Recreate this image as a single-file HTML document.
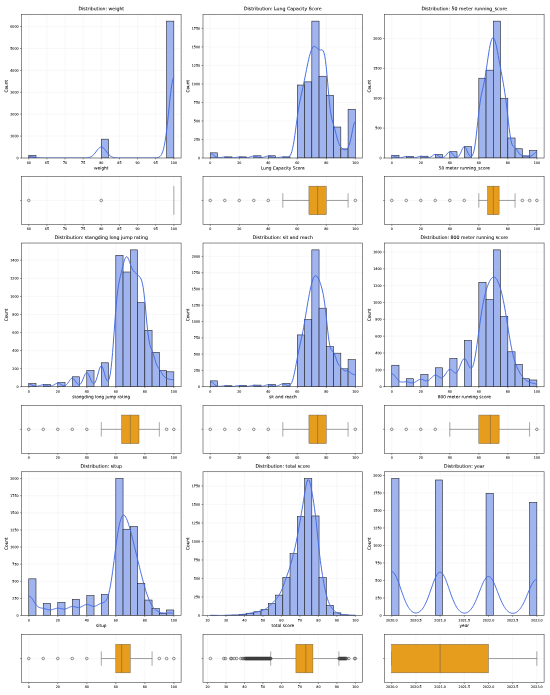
<!DOCTYPE html>
<html lang="en"><head><meta charset="utf-8"><title>Distributions</title>
<style>html,body{margin:0;padding:0;background:#fff}svg{display:block}</style></head>
<body>
<svg width="550" height="695" viewBox="0 0 550 695" font-family='"DejaVu Sans","Liberation Sans",sans-serif' text-rendering="geometricPrecision" stroke-linecap="butt">
<style>text{stroke:#000;stroke-width:0.06px}</style>
<rect width="550" height="695" fill="#fff"/>
<g id="p0">
<rect x="21.5" y="14.3" width="159.6" height="143.7" fill="#fff"/>
<path d="M28.75 14.3V158M46.89 14.3V158M65.03 14.3V158M83.16 14.3V158M101.3 14.3V158M119.44 14.3V158M137.57 14.3V158M155.71 14.3V158M173.85 14.3V158M21.5 158H181.1M21.5 136.1H181.1M21.5 114.21H181.1M21.5 92.31H181.1M21.5 70.41H181.1M21.5 48.51H181.1M21.5 26.62H181.1" stroke="#e9e9e9" stroke-width="0.32" fill="none"/>
<clipPath id="c0"><rect x="21.5" y="14.3" width="159.6" height="143.7"/></clipPath>
<g fill="rgb(160,180,240)" stroke="#1a1a1a" stroke-width="0.56" clip-path="url(#c0)">
<rect x="28.75" y="155.37" width="7.25" height="2.63"/>
<rect x="101.3" y="139.17" width="7.25" height="18.83"/>
<rect x="166.59" y="21.14" width="7.25" height="136.86"/>
</g>
<polyline points="28.75,156.46 29.48,156.48 30.21,156.53 30.94,156.6 31.67,156.71 32.4,156.83 33.13,156.96 33.86,157.1 34.59,157.23 35.32,157.36 36.05,157.48 36.77,157.59 37.5,157.68 38.23,157.76 38.96,157.82 39.69,157.87 40.42,157.91 41.15,157.93 41.88,157.95 42.61,157.97 43.34,157.98 44.07,157.99 44.79,157.99 45.52,158 46.25,158 46.98,158 47.71,158 48.44,158 49.17,158 49.9,158 50.63,158 51.36,158 52.09,158 52.81,158 53.54,158 54.27,158 55,158 55.73,158 56.46,158 57.19,158 57.92,158 58.65,158 59.38,158 60.11,158 60.83,158 61.56,158 62.29,158 63.02,158 63.75,158 64.48,158 65.21,158 65.94,158 66.67,158 67.4,158 68.13,158 68.86,158 69.58,158 70.31,158 71.04,158 71.77,158 72.5,158 73.23,158 73.96,158 74.69,158 75.42,158 76.15,158 76.88,158 77.6,158 78.33,158 79.06,158 79.79,158 80.52,158 81.25,158 81.98,157.99 82.71,157.99 83.44,157.98 84.17,157.97 84.9,157.96 85.62,157.93 86.35,157.89 87.08,157.82 87.81,157.73 88.54,157.61 89.27,157.43 90,157.19 90.73,156.88 91.46,156.48 92.19,155.99 92.92,155.39 93.64,154.68 94.37,153.87 95.1,152.98 95.83,152.02 96.56,151.04 97.29,150.06 98.02,149.15 98.75,148.35 99.48,147.7 100.21,147.24 100.94,147 101.66,147 102.39,147.24 103.12,147.7 103.85,148.35 104.58,149.15 105.31,150.06 106.04,151.04 106.77,152.02 107.5,152.98 108.23,153.87 108.96,154.68 109.68,155.39 110.41,155.99 111.14,156.48 111.87,156.88 112.6,157.19 113.33,157.43 114.06,157.61 114.79,157.73 115.52,157.82 116.25,157.89 116.98,157.93 117.7,157.96 118.43,157.97 119.16,157.98 119.89,157.99 120.62,157.99 121.35,158 122.08,158 122.81,158 123.54,158 124.27,158 125,158 125.72,158 126.45,158 127.18,158 127.91,158 128.64,158 129.37,158 130.1,158 130.83,158 131.56,158 132.29,158 133.02,158 133.74,158 134.47,158 135.2,158 135.93,158 136.66,158 137.39,158 138.12,158 138.85,158 139.58,158 140.31,158 141.04,158 141.77,158 142.49,158 143.22,158 143.95,158 144.68,158 145.41,158 146.14,158 146.87,158 147.6,158 148.33,158 149.06,158 149.79,158 150.51,158 151.24,158 151.97,158 152.7,157.99 153.43,157.98 154.16,157.97 154.89,157.95 155.62,157.91 156.35,157.85 157.08,157.75 157.81,157.59 158.53,157.34 159.26,156.97 159.99,156.43 160.72,155.64 161.45,154.55 162.18,153.06 162.91,151.08 163.64,148.51 164.37,145.27 165.1,141.28 165.83,136.53 166.55,131.01 167.28,124.81 168.01,118.06 168.74,110.98 169.47,103.83 170.2,96.94 170.93,90.65 171.66,85.32 172.39,81.26 173.12,78.71 173.85,77.84" fill="none" stroke="rgb(65,105,225)" stroke-width="0.95" stroke-linejoin="round" clip-path="url(#c0)"/>
<path d="M28.75 158v1.4M46.89 158v1.4M65.03 158v1.4M83.16 158v1.4M101.3 158v1.4M119.44 158v1.4M137.57 158v1.4M155.71 158v1.4M173.85 158v1.4M21.5 158h-1.4M21.5 136.1h-1.4M21.5 114.21h-1.4M21.5 92.31h-1.4M21.5 70.41h-1.4M21.5 48.51h-1.4M21.5 26.62h-1.4" stroke="#111" stroke-width="0.45" fill="none"/>
<rect x="21.5" y="14.3" width="159.6" height="143.7" fill="none" stroke="#333" stroke-width="0.55"/>
<g font-size="3.3" fill="#000">
<text transform="translate(28.75 163.95) rotate(0.05)" text-anchor="middle">60</text>
<text transform="translate(46.89 163.95) rotate(0.05)" text-anchor="middle">65</text>
<text transform="translate(65.03 163.95) rotate(0.05)" text-anchor="middle">70</text>
<text transform="translate(83.16 163.95) rotate(0.05)" text-anchor="middle">75</text>
<text transform="translate(101.3 163.95) rotate(0.05)" text-anchor="middle">80</text>
<text transform="translate(119.44 163.95) rotate(0.05)" text-anchor="middle">85</text>
<text transform="translate(137.57 163.95) rotate(0.05)" text-anchor="middle">90</text>
<text transform="translate(155.71 163.95) rotate(0.05)" text-anchor="middle">95</text>
<text transform="translate(173.85 163.95) rotate(0.05)" text-anchor="middle">100</text>
<text transform="translate(18.6 159.25) rotate(0.05)" text-anchor="end">0</text>
<text transform="translate(18.6 137.35) rotate(0.05)" text-anchor="end">1000</text>
<text transform="translate(18.6 115.46) rotate(0.05)" text-anchor="end">2000</text>
<text transform="translate(18.6 93.56) rotate(0.05)" text-anchor="end">3000</text>
<text transform="translate(18.6 71.66) rotate(0.05)" text-anchor="end">4000</text>
<text transform="translate(18.6 49.76) rotate(0.05)" text-anchor="end">5000</text>
<text transform="translate(18.6 27.87) rotate(0.05)" text-anchor="end">6000</text>
</g>
<text transform="translate(101.3 10.2) rotate(0.05)" font-size="4.65" text-anchor="middle">Distribution: weight</text>
<text transform="translate(101.3 169.6) rotate(0.05)" font-size="4.28" text-anchor="middle">weight</text>
<text transform="translate(7.75 86.15) rotate(-89.95)" font-size="4.28" text-anchor="middle">Count</text>
<rect x="21.5" y="176.4" width="159.6" height="48.1" fill="#fff"/>
<path d="M28.75 176.4V224.5M46.89 176.4V224.5M65.03 176.4V224.5M83.16 176.4V224.5M101.3 176.4V224.5M119.44 176.4V224.5M137.57 176.4V224.5M155.71 176.4V224.5M173.85 176.4V224.5M21.5 200.45H181.1" stroke="#e9e9e9" stroke-width="0.32" fill="none"/>
<path d="M173.85 186.14v28.62" stroke="#555" stroke-width="0.5" fill="none"/>
<g fill="none" stroke="#3a3a3a" stroke-width="0.56">
<circle cx="28.75" cy="200.45" r="1.3"/>
<circle cx="101.3" cy="200.45" r="1.3"/>
</g>
<path d="M28.75 224.5v1.4M46.89 224.5v1.4M65.03 224.5v1.4M83.16 224.5v1.4M101.3 224.5v1.4M119.44 224.5v1.4M137.57 224.5v1.4M155.71 224.5v1.4M173.85 224.5v1.4M21.5 200.45h-1.4" stroke="#111" stroke-width="0.45" fill="none"/>
<rect x="21.5" y="176.4" width="159.6" height="48.1" fill="none" stroke="#333" stroke-width="0.55"/>
<g font-size="3.3" fill="#000">
<text transform="translate(28.75 229.95) rotate(0.05)" text-anchor="middle">60</text>
<text transform="translate(46.89 229.95) rotate(0.05)" text-anchor="middle">65</text>
<text transform="translate(65.03 229.95) rotate(0.05)" text-anchor="middle">70</text>
<text transform="translate(83.16 229.95) rotate(0.05)" text-anchor="middle">75</text>
<text transform="translate(101.3 229.95) rotate(0.05)" text-anchor="middle">80</text>
<text transform="translate(119.44 229.95) rotate(0.05)" text-anchor="middle">85</text>
<text transform="translate(137.57 229.95) rotate(0.05)" text-anchor="middle">90</text>
<text transform="translate(155.71 229.95) rotate(0.05)" text-anchor="middle">95</text>
<text transform="translate(173.85 229.95) rotate(0.05)" text-anchor="middle">100</text>
</g>
</g>
<g id="p1">
<rect x="203" y="14.3" width="159.6" height="143.7" fill="#fff"/>
<path d="M210.25 14.3V158M239.27 14.3V158M268.29 14.3V158M297.31 14.3V158M326.33 14.3V158M355.35 14.3V158M203 158H362.6M203 139.49H362.6M203 120.97H362.6M203 102.46H362.6M203 83.94H362.6M203 65.43H362.6M203 46.91H362.6M203 28.4H362.6" stroke="#e9e9e9" stroke-width="0.32" fill="none"/>
<clipPath id="c1"><rect x="203" y="14.3" width="159.6" height="143.7"/></clipPath>
<g fill="rgb(160,180,240)" stroke="#1a1a1a" stroke-width="0.56" clip-path="url(#c1)">
<rect x="210.25" y="152.82" width="7.25" height="5.18"/>
<rect x="224.76" y="156.89" width="7.25" height="1.11"/>
<rect x="239.27" y="156.89" width="7.25" height="1.11"/>
<rect x="253.78" y="155.78" width="7.25" height="2.22"/>
<rect x="268.29" y="155.78" width="7.25" height="2.22"/>
<rect x="282.8" y="156.89" width="7.25" height="1.11"/>
<rect x="297.31" y="85.05" width="7.25" height="72.95"/>
<rect x="304.56" y="81.87" width="7.25" height="76.13"/>
<rect x="311.82" y="21.14" width="7.25" height="136.86"/>
<rect x="319.07" y="76.24" width="7.25" height="81.76"/>
<rect x="326.33" y="95.27" width="7.25" height="62.73"/>
<rect x="333.58" y="127.04" width="7.25" height="30.96"/>
<rect x="340.84" y="148.89" width="7.25" height="9.11"/>
<rect x="348.09" y="109.27" width="7.25" height="48.73"/>
</g>
<polyline points="210.25,153.53 210.98,153.64 211.71,153.93 212.44,154.38 213.17,154.93 213.9,155.52 214.63,156.08 215.36,156.57 216.09,156.98 216.82,157.28 217.55,157.48 218.27,157.59 219,157.63 219.73,157.61 220.46,157.53 221.19,157.43 221.92,157.32 222.65,157.21 223.38,157.12 224.11,157.06 224.84,157.04 225.57,157.07 226.29,157.14 227.02,157.24 227.75,157.35 228.48,157.48 229.21,157.59 229.94,157.69 230.67,157.76 231.4,157.8 232.13,157.81 232.86,157.79 233.59,157.74 234.31,157.66 235.04,157.56 235.77,157.44 236.5,157.32 237.23,157.2 237.96,157.11 238.69,157.06 239.42,157.04 240.15,157.07 240.88,157.14 241.61,157.25 242.33,157.36 243.06,157.48 243.79,157.59 244.52,157.68 245.25,157.73 245.98,157.74 246.71,157.71 247.44,157.63 248.17,157.5 248.9,157.32 249.63,157.1 250.36,156.86 251.08,156.61 251.81,156.39 252.54,156.21 253.27,156.11 254,156.09 254.73,156.16 255.46,156.31 256.19,156.52 256.92,156.76 257.65,157 258.38,157.22 259.1,157.41 259.83,157.54 260.56,157.62 261.29,157.63 262.02,157.57 262.75,157.46 263.48,157.28 264.21,157.07 264.94,156.83 265.67,156.59 266.4,156.37 267.12,156.2 267.85,156.1 268.58,156.09 269.31,156.17 270.04,156.33 270.77,156.54 271.5,156.78 272.23,157.03 272.96,157.26 273.69,157.45 274.42,157.59 275.14,157.69 275.87,157.74 276.6,157.74 277.33,157.69 278.06,157.62 278.79,157.52 279.52,157.4 280.25,157.28 280.98,157.17 281.71,157.09 282.44,157.05 283.16,157.05 283.89,157.08 284.62,157.16 285.35,157.25 286.08,157.33 286.81,157.37 287.54,157.33 288.27,157.16 289,156.79 289.73,156.12 290.46,155.06 291.18,153.48 291.91,151.28 292.64,148.37 293.37,144.73 294.1,140.39 294.83,135.46 295.56,130.13 296.29,124.63 297.02,119.19 297.75,114.01 298.48,109.25 299.2,104.95 299.93,101.08 300.66,97.56 301.39,94.24 302.12,90.99 302.85,87.69 303.58,84.27 304.31,80.72 305.04,77.06 305.77,73.34 306.5,69.65 307.22,66.04 307.95,62.58 308.68,59.33 309.41,56.34 310.14,53.66 310.87,51.36 311.6,49.46 312.33,48.01 313.06,47.02 313.79,46.48 314.52,46.34 315.24,46.55 315.97,47.01 316.7,47.65 317.43,48.34 318.16,48.99 318.89,49.52 319.62,49.85 320.35,49.97 321.08,49.94 321.81,49.91 322.54,50.14 323.27,50.97 323.99,52.76 324.72,55.86 325.45,60.48 326.18,66.62 326.91,74.04 327.64,82.29 328.37,90.74 329.1,98.76 329.83,105.82 330.56,111.61 331.29,116.11 332.01,119.52 332.74,122.21 333.47,124.59 334.2,126.99 334.93,129.58 335.66,132.39 336.39,135.28 337.12,138.08 337.85,140.6 338.58,142.73 339.31,144.44 340.03,145.79 340.76,146.84 341.49,147.7 342.22,148.41 342.95,149 343.68,149.45 344.41,149.72 345.14,149.79 345.87,149.62 346.6,149.21 347.33,148.51 348.05,147.46 348.78,146 349.51,144.01 350.24,141.43 350.97,138.26 351.7,134.62 352.43,130.78 353.16,127.14 353.89,124.14 354.62,122.24 355.35,121.76" fill="none" stroke="rgb(65,105,225)" stroke-width="0.95" stroke-linejoin="round" clip-path="url(#c1)"/>
<path d="M210.25 158v1.4M239.27 158v1.4M268.29 158v1.4M297.31 158v1.4M326.33 158v1.4M355.35 158v1.4M203 158h-1.4M203 139.49h-1.4M203 120.97h-1.4M203 102.46h-1.4M203 83.94h-1.4M203 65.43h-1.4M203 46.91h-1.4M203 28.4h-1.4" stroke="#111" stroke-width="0.45" fill="none"/>
<rect x="203" y="14.3" width="159.6" height="143.7" fill="none" stroke="#333" stroke-width="0.55"/>
<g font-size="3.3" fill="#000">
<text transform="translate(210.25 163.95) rotate(0.05)" text-anchor="middle">0</text>
<text transform="translate(239.27 163.95) rotate(0.05)" text-anchor="middle">20</text>
<text transform="translate(268.29 163.95) rotate(0.05)" text-anchor="middle">40</text>
<text transform="translate(297.31 163.95) rotate(0.05)" text-anchor="middle">60</text>
<text transform="translate(326.33 163.95) rotate(0.05)" text-anchor="middle">80</text>
<text transform="translate(355.35 163.95) rotate(0.05)" text-anchor="middle">100</text>
<text transform="translate(200.1 159.25) rotate(0.05)" text-anchor="end">0</text>
<text transform="translate(200.1 140.74) rotate(0.05)" text-anchor="end">250</text>
<text transform="translate(200.1 122.22) rotate(0.05)" text-anchor="end">500</text>
<text transform="translate(200.1 103.71) rotate(0.05)" text-anchor="end">750</text>
<text transform="translate(200.1 85.19) rotate(0.05)" text-anchor="end">1000</text>
<text transform="translate(200.1 66.68) rotate(0.05)" text-anchor="end">1250</text>
<text transform="translate(200.1 48.16) rotate(0.05)" text-anchor="end">1500</text>
<text transform="translate(200.1 29.65) rotate(0.05)" text-anchor="end">1750</text>
</g>
<text transform="translate(282.8 10.2) rotate(0.05)" font-size="4.65" text-anchor="middle">Distribution: Lung Capacity Score</text>
<text transform="translate(282.8 169.6) rotate(0.05)" font-size="4.28" text-anchor="middle">Lung Capacity Score</text>
<text transform="translate(189.25 86.15) rotate(-89.95)" font-size="4.28" text-anchor="middle">Count</text>
<rect x="203" y="176.4" width="159.6" height="48.1" fill="#fff"/>
<path d="M210.25 176.4V224.5M239.27 176.4V224.5M268.29 176.4V224.5M297.31 176.4V224.5M326.33 176.4V224.5M355.35 176.4V224.5M203 200.45H362.6" stroke="#e9e9e9" stroke-width="0.32" fill="none"/>
<path d="M282.8 200.45H308.92M326.33 200.45H348.09" stroke="#4a4a4a" stroke-width="0.52" fill="none"/>
<path d="M282.8 193.24v14.43M348.09 193.24v14.43" stroke="#555" stroke-width="0.5" fill="none"/>
<rect x="308.92" y="186.14" width="17.41" height="28.62" fill="#e69c1c" stroke="#5a5a5a" stroke-width="0.4"/>
<path d="M317.62 186.14v28.62" stroke="#4d4d4d" stroke-width="0.42" fill="none"/>
<g fill="none" stroke="#3a3a3a" stroke-width="0.56">
<circle cx="210.25" cy="200.45" r="1.3"/>
<circle cx="224.76" cy="200.45" r="1.3"/>
<circle cx="239.27" cy="200.45" r="1.3"/>
<circle cx="253.78" cy="200.45" r="1.3"/>
<circle cx="268.29" cy="200.45" r="1.3"/>
<circle cx="355.35" cy="200.45" r="1.3"/>
</g>
<path d="M210.25 224.5v1.4M239.27 224.5v1.4M268.29 224.5v1.4M297.31 224.5v1.4M326.33 224.5v1.4M355.35 224.5v1.4M203 200.45h-1.4" stroke="#111" stroke-width="0.45" fill="none"/>
<rect x="203" y="176.4" width="159.6" height="48.1" fill="none" stroke="#333" stroke-width="0.55"/>
<g font-size="3.3" fill="#000">
<text transform="translate(210.25 229.95) rotate(0.05)" text-anchor="middle">0</text>
<text transform="translate(239.27 229.95) rotate(0.05)" text-anchor="middle">20</text>
<text transform="translate(268.29 229.95) rotate(0.05)" text-anchor="middle">40</text>
<text transform="translate(297.31 229.95) rotate(0.05)" text-anchor="middle">60</text>
<text transform="translate(326.33 229.95) rotate(0.05)" text-anchor="middle">80</text>
<text transform="translate(355.35 229.95) rotate(0.05)" text-anchor="middle">100</text>
</g>
</g>
<g id="p2">
<rect x="384.5" y="14.3" width="159.6" height="143.7" fill="#fff"/>
<path d="M391.75 14.3V158M420.77 14.3V158M449.79 14.3V158M478.81 14.3V158M507.83 14.3V158M536.85 14.3V158M384.5 158H544.1M384.5 128.12H544.1M384.5 98.24H544.1M384.5 68.36H544.1M384.5 38.47H544.1" stroke="#e9e9e9" stroke-width="0.32" fill="none"/>
<clipPath id="c2"><rect x="384.5" y="14.3" width="159.6" height="143.7"/></clipPath>
<g fill="rgb(160,180,240)" stroke="#1a1a1a" stroke-width="0.56" clip-path="url(#c2)">
<rect x="391.75" y="155.31" width="7.25" height="2.69"/>
<rect x="406.26" y="156.51" width="7.25" height="1.49"/>
<rect x="420.77" y="156.21" width="7.25" height="1.79"/>
<rect x="435.28" y="154.41" width="7.25" height="3.59"/>
<rect x="449.79" y="151.72" width="7.25" height="6.28"/>
<rect x="464.3" y="146.65" width="7.25" height="11.35"/>
<rect x="478.81" y="78.22" width="7.25" height="79.78"/>
<rect x="486.06" y="70.15" width="7.25" height="87.85"/>
<rect x="493.32" y="21.14" width="7.25" height="136.86"/>
<rect x="500.57" y="98.24" width="7.25" height="59.76"/>
<rect x="507.83" y="137.98" width="7.25" height="20.02"/>
<rect x="515.08" y="148.74" width="7.25" height="9.26"/>
<rect x="522.34" y="155.91" width="7.25" height="2.09"/>
<rect x="529.59" y="150.53" width="7.25" height="7.47"/>
</g>
<polyline points="391.75,155.3 392.48,155.38 393.21,155.62 393.94,155.98 394.67,156.38 395.4,156.79 396.13,157.14 396.86,157.43 397.59,157.64 398.32,157.76 399.05,157.82 399.77,157.82 400.5,157.77 401.23,157.66 401.96,157.5 402.69,157.3 403.42,157.08 404.15,156.85 404.88,156.66 405.61,156.54 406.34,156.5 407.07,156.56 407.79,156.7 408.52,156.9 409.25,157.12 409.98,157.35 410.71,157.54 411.44,157.69 412.17,157.8 412.9,157.85 413.63,157.86 414.36,157.82 415.09,157.73 415.81,157.58 416.54,157.38 417.27,157.14 418,156.87 418.73,156.6 419.46,156.38 420.19,156.24 420.92,156.2 421.65,156.28 422.38,156.46 423.11,156.7 423.83,156.97 424.56,157.24 425.29,157.46 426.02,157.64 426.75,157.75 427.48,157.79 428.21,157.76 428.94,157.65 429.67,157.44 430.4,157.14 431.13,156.72 431.86,156.22 432.58,155.68 433.31,155.15 434.04,154.72 434.77,154.46 435.5,154.41 436.23,154.59 436.96,154.96 437.69,155.46 438.42,156 439.15,156.53 439.88,156.97 440.6,157.31 441.33,157.52 442.06,157.6 442.79,157.55 443.52,157.35 444.25,156.98 444.98,156.42 445.71,155.68 446.44,154.8 447.17,153.84 447.9,152.92 448.62,152.19 449.35,151.77 450.08,151.73 450.81,152.08 451.54,152.76 452.27,153.65 453,154.6 453.73,155.51 454.46,156.27 455.19,156.83 455.92,157.17 456.64,157.29 457.37,157.17 458.1,156.77 458.83,156.07 459.56,155.03 460.29,153.66 461.02,152.03 461.75,150.29 462.48,148.66 463.21,147.39 463.94,146.69 464.66,146.69 465.39,147.39 466.12,148.66 466.85,150.29 467.58,152.02 468.31,153.63 469.04,154.96 469.77,155.92 470.5,156.45 471.23,156.52 471.96,156.05 472.68,154.93 473.41,153.01 474.14,150.12 474.87,146.14 475.6,141.06 476.33,135.03 477.06,128.33 477.79,121.37 478.52,114.61 479.25,108.4 479.98,103 480.7,98.45 481.43,94.62 482.16,91.28 482.89,88.11 483.62,84.83 484.35,81.21 485.08,77.15 485.81,72.65 486.54,67.79 487.27,62.76 488,57.75 488.72,52.97 489.45,48.59 490.18,44.79 490.91,41.7 491.64,39.43 492.37,38.06 493.1,37.64 493.83,38.16 494.56,39.56 495.29,41.76 496.02,44.6 496.74,47.93 497.47,51.61 498.2,55.48 498.93,59.45 499.66,63.44 500.39,67.41 501.12,71.34 501.85,75.26 502.58,79.23 503.31,83.31 504.04,87.61 504.77,92.22 505.49,97.26 506.22,102.77 506.95,108.75 507.68,115.07 508.41,121.52 509.14,127.76 509.87,133.44 510.6,138.22 511.33,141.9 512.06,144.43 512.79,145.95 513.51,146.75 514.24,147.21 514.97,147.63 515.7,148.26 516.43,149.16 517.16,150.3 517.89,151.53 518.62,152.68 519.35,153.65 520.08,154.37 520.81,154.87 521.53,155.19 522.26,155.42 522.99,155.63 523.72,155.84 524.45,156.04 525.18,156.22 525.91,156.35 526.64,156.41 527.37,156.4 528.1,156.34 528.83,156.26 529.55,156.16 530.28,156.05 531.01,155.87 531.74,155.6 532.47,155.19 533.2,154.62 533.93,153.92 534.66,153.18 535.39,152.52 536.12,152.07 536.85,151.94" fill="none" stroke="rgb(65,105,225)" stroke-width="0.95" stroke-linejoin="round" clip-path="url(#c2)"/>
<path d="M391.75 158v1.4M420.77 158v1.4M449.79 158v1.4M478.81 158v1.4M507.83 158v1.4M536.85 158v1.4M384.5 158h-1.4M384.5 128.12h-1.4M384.5 98.24h-1.4M384.5 68.36h-1.4M384.5 38.47h-1.4" stroke="#111" stroke-width="0.45" fill="none"/>
<rect x="384.5" y="14.3" width="159.6" height="143.7" fill="none" stroke="#333" stroke-width="0.55"/>
<g font-size="3.3" fill="#000">
<text transform="translate(391.75 163.95) rotate(0.05)" text-anchor="middle">0</text>
<text transform="translate(420.77 163.95) rotate(0.05)" text-anchor="middle">20</text>
<text transform="translate(449.79 163.95) rotate(0.05)" text-anchor="middle">40</text>
<text transform="translate(478.81 163.95) rotate(0.05)" text-anchor="middle">60</text>
<text transform="translate(507.83 163.95) rotate(0.05)" text-anchor="middle">80</text>
<text transform="translate(536.85 163.95) rotate(0.05)" text-anchor="middle">100</text>
<text transform="translate(381.6 159.25) rotate(0.05)" text-anchor="end">0</text>
<text transform="translate(381.6 129.37) rotate(0.05)" text-anchor="end">500</text>
<text transform="translate(381.6 99.49) rotate(0.05)" text-anchor="end">1000</text>
<text transform="translate(381.6 69.61) rotate(0.05)" text-anchor="end">1500</text>
<text transform="translate(381.6 39.72) rotate(0.05)" text-anchor="end">2000</text>
</g>
<text transform="translate(464.3 10.2) rotate(0.05)" font-size="4.65" text-anchor="middle">Distribution: 50 meter running_score</text>
<text transform="translate(464.3 169.6) rotate(0.05)" font-size="4.28" text-anchor="middle">50 meter running_score</text>
<text transform="translate(370.75 86.15) rotate(-89.95)" font-size="4.28" text-anchor="middle">Count</text>
<rect x="384.5" y="176.4" width="159.6" height="48.1" fill="#fff"/>
<path d="M391.75 176.4V224.5M420.77 176.4V224.5M449.79 176.4V224.5M478.81 176.4V224.5M507.83 176.4V224.5M536.85 176.4V224.5M384.5 200.45H544.1" stroke="#e9e9e9" stroke-width="0.32" fill="none"/>
<path d="M478.81 200.45H487.51M499.12 200.45H515.08" stroke="#4a4a4a" stroke-width="0.52" fill="none"/>
<path d="M478.81 193.24v14.43M515.08 193.24v14.43" stroke="#555" stroke-width="0.5" fill="none"/>
<rect x="487.51" y="186.14" width="11.61" height="28.62" fill="#e69c1c" stroke="#5a5a5a" stroke-width="0.4"/>
<path d="M493.32 186.14v28.62" stroke="#4d4d4d" stroke-width="0.42" fill="none"/>
<g fill="none" stroke="#3a3a3a" stroke-width="0.56">
<circle cx="391.75" cy="200.45" r="1.3"/>
<circle cx="406.26" cy="200.45" r="1.3"/>
<circle cx="420.77" cy="200.45" r="1.3"/>
<circle cx="435.28" cy="200.45" r="1.3"/>
<circle cx="449.79" cy="200.45" r="1.3"/>
<circle cx="464.3" cy="200.45" r="1.3"/>
<circle cx="522.34" cy="200.45" r="1.3"/>
<circle cx="529.59" cy="200.45" r="1.3"/>
<circle cx="536.85" cy="200.45" r="1.3"/>
</g>
<path d="M391.75 224.5v1.4M420.77 224.5v1.4M449.79 224.5v1.4M478.81 224.5v1.4M507.83 224.5v1.4M536.85 224.5v1.4M384.5 200.45h-1.4" stroke="#111" stroke-width="0.45" fill="none"/>
<rect x="384.5" y="176.4" width="159.6" height="48.1" fill="none" stroke="#333" stroke-width="0.55"/>
<g font-size="3.3" fill="#000">
<text transform="translate(391.75 229.95) rotate(0.05)" text-anchor="middle">0</text>
<text transform="translate(420.77 229.95) rotate(0.05)" text-anchor="middle">20</text>
<text transform="translate(449.79 229.95) rotate(0.05)" text-anchor="middle">40</text>
<text transform="translate(478.81 229.95) rotate(0.05)" text-anchor="middle">60</text>
<text transform="translate(507.83 229.95) rotate(0.05)" text-anchor="middle">80</text>
<text transform="translate(536.85 229.95) rotate(0.05)" text-anchor="middle">100</text>
</g>
</g>
<g id="p3">
<rect x="21.5" y="243.03" width="159.6" height="143.7" fill="#fff"/>
<path d="M28.75 243.03V386.73M57.77 243.03V386.73M86.79 243.03V386.73M115.81 243.03V386.73M144.83 243.03V386.73M173.85 243.03V386.73M21.5 386.73H181.1M21.5 368.66H181.1M21.5 350.6H181.1M21.5 332.53H181.1M21.5 314.46H181.1M21.5 296.4H181.1M21.5 278.33H181.1M21.5 260.26H181.1" stroke="#e9e9e9" stroke-width="0.32" fill="none"/>
<clipPath id="c3"><rect x="21.5" y="243.03" width="159.6" height="143.7"/></clipPath>
<g fill="rgb(160,180,240)" stroke="#1a1a1a" stroke-width="0.56" clip-path="url(#c3)">
<rect x="28.75" y="383.57" width="7.25" height="3.16"/>
<rect x="43.26" y="384.47" width="7.25" height="2.26"/>
<rect x="57.77" y="382.66" width="7.25" height="4.07"/>
<rect x="72.28" y="376.79" width="7.25" height="9.94"/>
<rect x="86.79" y="370.47" width="7.25" height="16.26"/>
<rect x="101.3" y="362.79" width="7.25" height="23.94"/>
<rect x="115.81" y="255.29" width="7.25" height="131.44"/>
<rect x="123.06" y="272" width="7.25" height="114.73"/>
<rect x="130.32" y="249.87" width="7.25" height="136.86"/>
<rect x="137.57" y="302.72" width="7.25" height="84.01"/>
<rect x="144.83" y="330.27" width="7.25" height="56.46"/>
<rect x="152.08" y="352.4" width="7.25" height="34.33"/>
<rect x="159.34" y="370.47" width="7.25" height="16.26"/>
<rect x="166.59" y="371.82" width="7.25" height="14.91"/>
</g>
<polyline points="28.75,383.99 29.48,384.05 30.21,384.24 30.94,384.52 31.67,384.85 32.4,385.21 33.13,385.55 33.86,385.84 34.59,386.07 35.32,386.22 36.05,386.29 36.77,386.28 37.5,386.2 38.23,386.05 38.96,385.85 39.69,385.61 40.42,385.36 41.15,385.12 41.88,384.93 42.61,384.81 43.34,384.77 44.07,384.83 44.79,384.97 45.52,385.17 46.25,385.41 46.98,385.66 47.71,385.89 48.44,386.07 49.17,386.19 49.9,386.24 50.63,386.2 51.36,386.07 52.09,385.85 52.81,385.53 53.54,385.13 54.27,384.69 55,384.23 55.73,383.8 56.46,383.47 57.19,383.26 57.92,383.21 58.65,383.32 59.38,383.58 60.11,383.96 60.83,384.39 61.56,384.83 62.29,385.22 63.02,385.52 63.75,385.69 64.48,385.7 65.21,385.52 65.94,385.14 66.67,384.54 67.4,383.72 68.13,382.73 68.86,381.63 69.58,380.51 70.31,379.49 71.04,378.69 71.77,378.21 72.5,378.13 73.23,378.45 73.96,379.13 74.69,380.07 75.42,381.14 76.15,382.23 76.88,383.22 77.6,383.99 78.33,384.5 79.06,384.67 79.79,384.48 80.52,383.91 81.25,382.94 81.98,381.62 82.71,379.99 83.44,378.19 84.17,376.37 84.9,374.72 85.62,373.46 86.35,372.75 87.08,372.68 87.81,373.27 88.54,374.43 89.27,376 90,377.78 90.73,379.56 91.46,381.16 92.19,382.41 92.92,383.23 93.64,383.52 94.37,383.25 95.1,382.39 95.83,380.95 96.56,378.96 97.29,376.54 98.02,373.88 98.75,371.21 99.48,368.84 100.21,367.05 100.94,366.09 101.66,366.09 102.39,367.04 103.12,368.82 103.85,371.16 104.58,373.78 105.31,376.34 106.04,378.55 106.77,380.18 107.5,381.02 108.23,380.89 108.96,379.64 109.68,377.09 110.41,373.13 111.14,367.67 111.87,360.71 112.6,352.41 113.33,343.06 114.06,333.11 114.79,323.06 115.52,313.45 116.25,304.73 116.98,297.17 117.7,290.9 118.43,285.83 119.16,281.73 119.89,278.29 120.62,275.22 121.35,272.26 122.08,269.29 122.81,266.3 123.54,263.41 124.27,260.8 125,258.69 125.72,257.26 126.45,256.65 127.18,256.86 127.91,257.83 128.64,259.4 129.37,261.35 130.1,263.45 130.83,265.5 131.56,267.34 132.29,268.89 133.02,270.15 133.74,271.14 134.47,271.94 135.2,272.63 135.93,273.27 136.66,273.92 137.39,274.58 138.12,275.26 138.85,275.95 139.58,276.72 140.31,277.67 141.04,278.99 141.77,280.94 142.49,283.8 143.22,287.81 143.95,293.11 144.68,299.63 145.41,307.11 146.14,315.08 146.87,322.94 147.6,330.12 148.33,336.18 149.06,340.9 149.79,344.34 150.51,346.79 151.24,348.66 151.97,350.39 152.7,352.29 153.43,354.49 154.16,356.94 154.89,359.47 155.62,361.87 156.35,363.94 157.08,365.63 157.81,366.96 158.53,368.07 159.26,369.09 159.99,370.16 160.72,371.33 161.45,372.57 162.18,373.82 162.91,374.97 163.64,375.95 164.37,376.72 165.1,377.31 165.83,377.76 166.55,378.13 167.28,378.48 168.01,378.81 168.74,379.11 169.47,379.35 170.2,379.5 170.93,379.56 171.66,379.56 172.39,379.55 173.12,379.62 173.85,379.83" fill="none" stroke="rgb(65,105,225)" stroke-width="0.95" stroke-linejoin="round" clip-path="url(#c3)"/>
<path d="M28.75 386.73v1.4M57.77 386.73v1.4M86.79 386.73v1.4M115.81 386.73v1.4M144.83 386.73v1.4M173.85 386.73v1.4M21.5 386.73h-1.4M21.5 368.66h-1.4M21.5 350.6h-1.4M21.5 332.53h-1.4M21.5 314.46h-1.4M21.5 296.4h-1.4M21.5 278.33h-1.4M21.5 260.26h-1.4" stroke="#111" stroke-width="0.45" fill="none"/>
<rect x="21.5" y="243.03" width="159.6" height="143.7" fill="none" stroke="#333" stroke-width="0.55"/>
<g font-size="3.3" fill="#000">
<text transform="translate(28.75 392.68) rotate(0.05)" text-anchor="middle">0</text>
<text transform="translate(57.77 392.68) rotate(0.05)" text-anchor="middle">20</text>
<text transform="translate(86.79 392.68) rotate(0.05)" text-anchor="middle">40</text>
<text transform="translate(115.81 392.68) rotate(0.05)" text-anchor="middle">60</text>
<text transform="translate(144.83 392.68) rotate(0.05)" text-anchor="middle">80</text>
<text transform="translate(173.85 392.68) rotate(0.05)" text-anchor="middle">100</text>
<text transform="translate(18.6 387.98) rotate(0.05)" text-anchor="end">0</text>
<text transform="translate(18.6 369.91) rotate(0.05)" text-anchor="end">200</text>
<text transform="translate(18.6 351.85) rotate(0.05)" text-anchor="end">400</text>
<text transform="translate(18.6 333.78) rotate(0.05)" text-anchor="end">600</text>
<text transform="translate(18.6 315.71) rotate(0.05)" text-anchor="end">800</text>
<text transform="translate(18.6 297.65) rotate(0.05)" text-anchor="end">1000</text>
<text transform="translate(18.6 279.58) rotate(0.05)" text-anchor="end">1200</text>
<text transform="translate(18.6 261.51) rotate(0.05)" text-anchor="end">1400</text>
</g>
<text transform="translate(101.3 238.93) rotate(0.05)" font-size="4.65" text-anchor="middle">Distribution: stangding long jump rating</text>
<text transform="translate(101.3 398.33) rotate(0.05)" font-size="4.28" text-anchor="middle">stangding long jump rating</text>
<text transform="translate(7.75 314.88) rotate(-89.95)" font-size="4.28" text-anchor="middle">Count</text>
<rect x="21.5" y="405.3" width="159.6" height="48.1" fill="#fff"/>
<path d="M28.75 405.3V453.4M57.77 405.3V453.4M86.79 405.3V453.4M115.81 405.3V453.4M144.83 405.3V453.4M173.85 405.3V453.4M21.5 429.35H181.1" stroke="#e9e9e9" stroke-width="0.32" fill="none"/>
<path d="M101.3 429.35H121.61M139.02 429.35H159.34" stroke="#4a4a4a" stroke-width="0.52" fill="none"/>
<path d="M101.3 422.14v14.43M159.34 422.14v14.43" stroke="#555" stroke-width="0.5" fill="none"/>
<rect x="121.61" y="415.04" width="17.41" height="28.62" fill="#e69c1c" stroke="#5a5a5a" stroke-width="0.4"/>
<path d="M130.32 415.04v28.62" stroke="#4d4d4d" stroke-width="0.42" fill="none"/>
<g fill="none" stroke="#3a3a3a" stroke-width="0.56">
<circle cx="28.75" cy="429.35" r="1.3"/>
<circle cx="43.26" cy="429.35" r="1.3"/>
<circle cx="57.77" cy="429.35" r="1.3"/>
<circle cx="72.28" cy="429.35" r="1.3"/>
<circle cx="86.79" cy="429.35" r="1.3"/>
<circle cx="166.59" cy="429.35" r="1.3"/>
<circle cx="173.85" cy="429.35" r="1.3"/>
</g>
<path d="M28.75 453.4v1.4M57.77 453.4v1.4M86.79 453.4v1.4M115.81 453.4v1.4M144.83 453.4v1.4M173.85 453.4v1.4M21.5 429.35h-1.4" stroke="#111" stroke-width="0.45" fill="none"/>
<rect x="21.5" y="405.3" width="159.6" height="48.1" fill="none" stroke="#333" stroke-width="0.55"/>
<g font-size="3.3" fill="#000">
<text transform="translate(28.75 458.85) rotate(0.05)" text-anchor="middle">0</text>
<text transform="translate(57.77 458.85) rotate(0.05)" text-anchor="middle">20</text>
<text transform="translate(86.79 458.85) rotate(0.05)" text-anchor="middle">40</text>
<text transform="translate(115.81 458.85) rotate(0.05)" text-anchor="middle">60</text>
<text transform="translate(144.83 458.85) rotate(0.05)" text-anchor="middle">80</text>
<text transform="translate(173.85 458.85) rotate(0.05)" text-anchor="middle">100</text>
</g>
</g>
<g id="p4">
<rect x="203" y="243.03" width="159.6" height="143.7" fill="#fff"/>
<path d="M210.25 243.03V386.73M239.27 243.03V386.73M268.29 243.03V386.73M297.31 243.03V386.73M326.33 243.03V386.73M355.35 243.03V386.73M203 386.73H362.6M203 370.44H362.6M203 354.14H362.6M203 337.85H362.6M203 321.56H362.6M203 305.27H362.6M203 288.97H362.6M203 272.68H362.6M203 256.39H362.6" stroke="#e9e9e9" stroke-width="0.32" fill="none"/>
<clipPath id="c4"><rect x="203" y="243.03" width="159.6" height="143.7"/></clipPath>
<g fill="rgb(160,180,240)" stroke="#1a1a1a" stroke-width="0.56" clip-path="url(#c4)">
<rect x="210.25" y="380.86" width="7.25" height="5.87"/>
<rect x="224.76" y="385.75" width="7.25" height="0.98"/>
<rect x="239.27" y="385.43" width="7.25" height="1.3"/>
<rect x="253.78" y="385.1" width="7.25" height="1.63"/>
<rect x="268.29" y="384.45" width="7.25" height="2.28"/>
<rect x="282.8" y="383.47" width="7.25" height="3.26"/>
<rect x="297.31" y="334.92" width="7.25" height="51.81"/>
<rect x="304.56" y="319.6" width="7.25" height="67.13"/>
<rect x="311.82" y="249.87" width="7.25" height="136.86"/>
<rect x="319.07" y="308.2" width="7.25" height="78.53"/>
<rect x="326.33" y="346.65" width="7.25" height="40.08"/>
<rect x="333.58" y="353.17" width="7.25" height="33.56"/>
<rect x="340.84" y="368.81" width="7.25" height="17.92"/>
<rect x="348.09" y="359.68" width="7.25" height="27.05"/>
</g>
<polyline points="210.25,381.59 210.98,381.71 211.71,382.07 212.44,382.6 213.17,383.25 213.9,383.93 214.63,384.59 215.36,385.16 216.09,385.62 216.82,385.97 217.55,386.2 218.27,386.34 219,386.39 219.73,386.38 220.46,386.32 221.19,386.23 221.92,386.13 222.65,386.03 223.38,385.94 224.11,385.89 224.84,385.87 225.57,385.9 226.29,385.96 227.02,386.05 227.75,386.16 228.48,386.27 229.21,386.37 229.94,386.46 230.67,386.52 231.4,386.55 232.13,386.55 232.86,386.51 233.59,386.45 234.31,386.35 235.04,386.22 235.77,386.08 236.5,385.92 237.23,385.79 237.96,385.67 238.69,385.6 239.42,385.59 240.15,385.63 240.88,385.71 241.61,385.84 242.33,385.98 243.06,386.13 243.79,386.27 244.52,386.38 245.25,386.46 245.98,386.5 246.71,386.5 247.44,386.45 248.17,386.36 248.9,386.24 249.63,386.07 250.36,385.89 251.08,385.71 251.81,385.53 252.54,385.4 253.27,385.32 254,385.3 254.73,385.36 255.46,385.47 256.19,385.63 256.92,385.81 257.65,386 258.38,386.17 259.1,386.3 259.83,386.39 260.56,386.43 261.29,386.41 262.02,386.34 262.75,386.21 263.48,386.02 264.21,385.79 264.94,385.53 265.67,385.27 266.4,385.03 267.12,384.85 267.85,384.75 268.58,384.74 269.31,384.82 270.04,384.99 270.77,385.22 271.5,385.47 272.23,385.73 272.96,385.96 273.69,386.14 274.42,386.26 275.14,386.3 275.87,386.27 276.6,386.16 277.33,385.96 278.06,385.69 278.79,385.35 279.52,384.98 280.25,384.61 280.98,384.28 281.71,384.03 282.44,383.89 283.16,383.89 283.89,384.02 284.62,384.27 285.35,384.59 286.08,384.94 286.81,385.27 287.54,385.52 288.27,385.65 289,385.59 289.73,385.29 290.46,384.68 291.18,383.68 291.91,382.21 292.64,380.23 293.37,377.7 294.1,374.65 294.83,371.16 295.56,367.34 296.29,363.36 297.02,359.37 297.75,355.5 298.48,351.84 299.2,348.4 299.93,345.12 300.66,341.92 301.39,338.66 302.12,335.25 302.85,331.6 303.58,327.69 304.31,323.55 305.04,319.22 305.77,314.81 306.5,310.38 307.22,306.01 307.95,301.75 308.68,297.65 309.41,293.74 310.14,290.07 310.87,286.69 311.6,283.66 312.33,281.06 313.06,278.94 313.79,277.33 314.52,276.26 315.24,275.72 315.97,275.69 316.7,276.11 317.43,276.94 318.16,278.12 318.89,279.6 319.62,281.33 320.35,283.29 321.08,285.5 321.81,288.04 322.54,291 323.27,294.54 323.99,298.81 324.72,303.88 325.45,309.76 326.18,316.28 326.91,323.15 327.64,329.94 328.37,336.19 329.1,341.46 329.83,345.49 330.56,348.25 331.29,349.9 332.01,350.83 332.74,351.49 333.47,352.3 334.2,353.52 334.93,355.23 335.66,357.31 336.39,359.51 337.12,361.59 337.85,363.34 338.58,364.68 339.31,365.67 340.03,366.43 340.76,367.11 341.49,367.84 342.22,368.62 342.95,369.4 343.68,370.1 344.41,370.6 345.14,370.86 345.87,370.91 346.6,370.86 347.33,370.84 348.05,370.97 348.78,371.3 349.51,371.84 350.24,372.49 350.97,373.14 351.7,373.68 352.43,374.07 353.16,374.32 353.89,374.52 354.62,374.79 355.35,375.24" fill="none" stroke="rgb(65,105,225)" stroke-width="0.95" stroke-linejoin="round" clip-path="url(#c4)"/>
<path d="M210.25 386.73v1.4M239.27 386.73v1.4M268.29 386.73v1.4M297.31 386.73v1.4M326.33 386.73v1.4M355.35 386.73v1.4M203 386.73h-1.4M203 370.44h-1.4M203 354.14h-1.4M203 337.85h-1.4M203 321.56h-1.4M203 305.27h-1.4M203 288.97h-1.4M203 272.68h-1.4M203 256.39h-1.4" stroke="#111" stroke-width="0.45" fill="none"/>
<rect x="203" y="243.03" width="159.6" height="143.7" fill="none" stroke="#333" stroke-width="0.55"/>
<g font-size="3.3" fill="#000">
<text transform="translate(210.25 392.68) rotate(0.05)" text-anchor="middle">0</text>
<text transform="translate(239.27 392.68) rotate(0.05)" text-anchor="middle">20</text>
<text transform="translate(268.29 392.68) rotate(0.05)" text-anchor="middle">40</text>
<text transform="translate(297.31 392.68) rotate(0.05)" text-anchor="middle">60</text>
<text transform="translate(326.33 392.68) rotate(0.05)" text-anchor="middle">80</text>
<text transform="translate(355.35 392.68) rotate(0.05)" text-anchor="middle">100</text>
<text transform="translate(200.1 387.98) rotate(0.05)" text-anchor="end">0</text>
<text transform="translate(200.1 371.69) rotate(0.05)" text-anchor="end">250</text>
<text transform="translate(200.1 355.39) rotate(0.05)" text-anchor="end">500</text>
<text transform="translate(200.1 339.1) rotate(0.05)" text-anchor="end">750</text>
<text transform="translate(200.1 322.81) rotate(0.05)" text-anchor="end">1000</text>
<text transform="translate(200.1 306.52) rotate(0.05)" text-anchor="end">1250</text>
<text transform="translate(200.1 290.22) rotate(0.05)" text-anchor="end">1500</text>
<text transform="translate(200.1 273.93) rotate(0.05)" text-anchor="end">1750</text>
<text transform="translate(200.1 257.64) rotate(0.05)" text-anchor="end">2000</text>
</g>
<text transform="translate(282.8 238.93) rotate(0.05)" font-size="4.65" text-anchor="middle">Distribution: sit and reach</text>
<text transform="translate(282.8 398.33) rotate(0.05)" font-size="4.28" text-anchor="middle">sit and reach</text>
<text transform="translate(189.25 314.88) rotate(-89.95)" font-size="4.28" text-anchor="middle">Count</text>
<rect x="203" y="405.3" width="159.6" height="48.1" fill="#fff"/>
<path d="M210.25 405.3V453.4M239.27 405.3V453.4M268.29 405.3V453.4M297.31 405.3V453.4M326.33 405.3V453.4M355.35 405.3V453.4M203 429.35H362.6" stroke="#e9e9e9" stroke-width="0.32" fill="none"/>
<path d="M282.8 429.35H308.92M326.33 429.35H348.09" stroke="#4a4a4a" stroke-width="0.52" fill="none"/>
<path d="M282.8 422.14v14.43M348.09 422.14v14.43" stroke="#555" stroke-width="0.5" fill="none"/>
<rect x="308.92" y="415.04" width="17.41" height="28.62" fill="#e69c1c" stroke="#5a5a5a" stroke-width="0.4"/>
<path d="M317.62 415.04v28.62" stroke="#4d4d4d" stroke-width="0.42" fill="none"/>
<g fill="none" stroke="#3a3a3a" stroke-width="0.56">
<circle cx="210.25" cy="429.35" r="1.3"/>
<circle cx="224.76" cy="429.35" r="1.3"/>
<circle cx="239.27" cy="429.35" r="1.3"/>
<circle cx="253.78" cy="429.35" r="1.3"/>
<circle cx="268.29" cy="429.35" r="1.3"/>
<circle cx="355.35" cy="429.35" r="1.3"/>
</g>
<path d="M210.25 453.4v1.4M239.27 453.4v1.4M268.29 453.4v1.4M297.31 453.4v1.4M326.33 453.4v1.4M355.35 453.4v1.4M203 429.35h-1.4" stroke="#111" stroke-width="0.45" fill="none"/>
<rect x="203" y="405.3" width="159.6" height="48.1" fill="none" stroke="#333" stroke-width="0.55"/>
<g font-size="3.3" fill="#000">
<text transform="translate(210.25 458.85) rotate(0.05)" text-anchor="middle">0</text>
<text transform="translate(239.27 458.85) rotate(0.05)" text-anchor="middle">20</text>
<text transform="translate(268.29 458.85) rotate(0.05)" text-anchor="middle">40</text>
<text transform="translate(297.31 458.85) rotate(0.05)" text-anchor="middle">60</text>
<text transform="translate(326.33 458.85) rotate(0.05)" text-anchor="middle">80</text>
<text transform="translate(355.35 458.85) rotate(0.05)" text-anchor="middle">100</text>
</g>
</g>
<g id="p5">
<rect x="384.5" y="243.03" width="159.6" height="143.7" fill="#fff"/>
<path d="M391.75 243.03V386.73M420.77 243.03V386.73M449.79 243.03V386.73M478.81 243.03V386.73M507.83 243.03V386.73M536.85 243.03V386.73M384.5 386.73H544.1M384.5 369.89H544.1M384.5 353.04H544.1M384.5 336.2H544.1M384.5 319.35H544.1M384.5 302.51H544.1M384.5 285.67H544.1M384.5 268.82H544.1M384.5 251.98H544.1" stroke="#e9e9e9" stroke-width="0.32" fill="none"/>
<clipPath id="c5"><rect x="384.5" y="243.03" width="159.6" height="143.7"/></clipPath>
<g fill="rgb(160,180,240)" stroke="#1a1a1a" stroke-width="0.56" clip-path="url(#c5)">
<rect x="391.75" y="365.25" width="7.25" height="21.48"/>
<rect x="406.26" y="378.73" width="7.25" height="8"/>
<rect x="420.77" y="374.52" width="7.25" height="12.21"/>
<rect x="435.28" y="367.78" width="7.25" height="18.95"/>
<rect x="449.79" y="358.52" width="7.25" height="28.21"/>
<rect x="464.3" y="340.41" width="7.25" height="46.32"/>
<rect x="478.81" y="282.3" width="7.25" height="104.43"/>
<rect x="486.06" y="299.56" width="7.25" height="87.17"/>
<rect x="493.32" y="249.87" width="7.25" height="136.86"/>
<rect x="500.57" y="316.41" width="7.25" height="70.32"/>
<rect x="507.83" y="351.78" width="7.25" height="34.95"/>
<rect x="515.08" y="364.41" width="7.25" height="22.32"/>
<rect x="522.34" y="378.73" width="7.25" height="8"/>
<rect x="529.59" y="379.99" width="7.25" height="6.74"/>
</g>
<polyline points="391.75,373.84 392.48,373.95 393.21,374.33 393.94,374.95 394.67,375.75 395.4,376.67 396.13,377.66 396.86,378.64 397.59,379.56 398.32,380.36 399.05,381.03 399.77,381.53 400.5,381.87 401.23,382.05 401.96,382.11 402.69,382.08 403.42,381.99 404.15,381.88 404.88,381.78 405.61,381.72 406.34,381.72 407.07,381.79 407.79,381.93 408.52,382.11 409.25,382.33 409.98,382.55 410.71,382.75 411.44,382.89 412.17,382.95 412.9,382.91 413.63,382.77 414.36,382.51 415.09,382.16 415.81,381.72 416.54,381.24 417.27,380.74 418,380.26 418.73,379.84 419.46,379.52 420.19,379.32 420.92,379.24 421.65,379.3 422.38,379.48 423.11,379.74 423.83,380.05 424.56,380.38 425.29,380.66 426.02,380.86 426.75,380.93 427.48,380.84 428.21,380.59 428.94,380.17 429.67,379.6 430.4,378.9 431.13,378.14 431.86,377.36 432.58,376.63 433.31,375.99 434.04,375.51 434.77,375.21 435.5,375.12 436.23,375.24 436.96,375.53 437.69,375.96 438.42,376.47 439.15,376.98 439.88,377.44 440.6,377.75 441.33,377.88 442.06,377.77 442.79,377.4 443.52,376.78 444.25,375.93 444.98,374.91 445.71,373.78 446.44,372.63 447.17,371.56 447.9,370.64 448.62,369.94 449.35,369.53 450.08,369.41 450.81,369.6 451.54,370.03 452.27,370.65 453,371.36 453.73,372.05 454.46,372.62 455.19,372.96 455.92,372.97 456.64,372.61 457.37,371.83 458.1,370.66 458.83,369.15 459.56,367.37 460.29,365.46 461.02,363.55 461.75,361.78 462.48,360.31 463.21,359.24 463.94,358.67 464.66,358.63 465.39,359.13 466.12,360.09 466.85,361.42 467.58,362.99 468.31,364.61 469.04,366.13 469.77,367.35 470.5,368.12 471.23,368.31 471.96,367.8 472.68,366.53 473.41,364.49 474.14,361.68 474.87,358.16 475.6,354.02 476.33,349.36 477.06,344.31 477.79,339.02 478.52,333.61 479.25,328.22 479.98,322.95 480.7,317.9 481.43,313.13 482.16,308.69 482.89,304.6 483.62,300.86 484.35,297.47 485.08,294.4 485.81,291.62 486.54,289.12 487.27,286.88 488,284.87 488.72,283.1 489.45,281.54 490.18,280.21 490.91,279.1 491.64,278.23 492.37,277.6 493.1,277.22 493.83,277.1 494.56,277.25 495.29,277.67 496.02,278.37 496.74,279.34 497.47,280.58 498.2,282.1 498.93,283.9 499.66,285.96 500.39,288.3 501.12,290.9 501.85,293.78 502.58,296.94 503.31,300.38 504.04,304.08 504.77,308.04 505.49,312.23 506.22,316.62 506.95,321.14 507.68,325.73 508.41,330.31 509.14,334.82 509.87,339.16 510.6,343.28 511.33,347.13 512.06,350.67 512.79,353.88 513.51,356.78 514.24,359.38 514.97,361.72 515.7,363.83 516.43,365.74 517.16,367.49 517.89,369.1 518.62,370.59 519.35,371.97 520.08,373.25 520.81,374.42 521.53,375.5 522.26,376.49 522.99,377.38 523.72,378.19 524.45,378.91 525.18,379.56 525.91,380.14 526.64,380.65 527.37,381.11 528.1,381.51 528.83,381.86 529.55,382.17 530.28,382.44 531.01,382.69 531.74,382.91 532.47,383.1 533.2,383.29 533.93,383.46 534.66,383.64 535.39,383.81 536.12,383.99 536.85,384.18" fill="none" stroke="rgb(65,105,225)" stroke-width="0.95" stroke-linejoin="round" clip-path="url(#c5)"/>
<path d="M391.75 386.73v1.4M420.77 386.73v1.4M449.79 386.73v1.4M478.81 386.73v1.4M507.83 386.73v1.4M536.85 386.73v1.4M384.5 386.73h-1.4M384.5 369.89h-1.4M384.5 353.04h-1.4M384.5 336.2h-1.4M384.5 319.35h-1.4M384.5 302.51h-1.4M384.5 285.67h-1.4M384.5 268.82h-1.4M384.5 251.98h-1.4" stroke="#111" stroke-width="0.45" fill="none"/>
<rect x="384.5" y="243.03" width="159.6" height="143.7" fill="none" stroke="#333" stroke-width="0.55"/>
<g font-size="3.3" fill="#000">
<text transform="translate(391.75 392.68) rotate(0.05)" text-anchor="middle">0</text>
<text transform="translate(420.77 392.68) rotate(0.05)" text-anchor="middle">20</text>
<text transform="translate(449.79 392.68) rotate(0.05)" text-anchor="middle">40</text>
<text transform="translate(478.81 392.68) rotate(0.05)" text-anchor="middle">60</text>
<text transform="translate(507.83 392.68) rotate(0.05)" text-anchor="middle">80</text>
<text transform="translate(536.85 392.68) rotate(0.05)" text-anchor="middle">100</text>
<text transform="translate(381.6 387.98) rotate(0.05)" text-anchor="end">0</text>
<text transform="translate(381.6 371.14) rotate(0.05)" text-anchor="end">200</text>
<text transform="translate(381.6 354.29) rotate(0.05)" text-anchor="end">400</text>
<text transform="translate(381.6 337.45) rotate(0.05)" text-anchor="end">600</text>
<text transform="translate(381.6 320.6) rotate(0.05)" text-anchor="end">800</text>
<text transform="translate(381.6 303.76) rotate(0.05)" text-anchor="end">1000</text>
<text transform="translate(381.6 286.92) rotate(0.05)" text-anchor="end">1200</text>
<text transform="translate(381.6 270.07) rotate(0.05)" text-anchor="end">1400</text>
<text transform="translate(381.6 253.23) rotate(0.05)" text-anchor="end">1600</text>
</g>
<text transform="translate(464.3 238.93) rotate(0.05)" font-size="4.65" text-anchor="middle">Distribution: 800 meter running score</text>
<text transform="translate(464.3 398.33) rotate(0.05)" font-size="4.28" text-anchor="middle">800 meter running score</text>
<text transform="translate(370.75 314.88) rotate(-89.95)" font-size="4.28" text-anchor="middle">Count</text>
<rect x="384.5" y="405.3" width="159.6" height="48.1" fill="#fff"/>
<path d="M391.75 405.3V453.4M420.77 405.3V453.4M449.79 405.3V453.4M478.81 405.3V453.4M507.83 405.3V453.4M536.85 405.3V453.4M384.5 429.35H544.1" stroke="#e9e9e9" stroke-width="0.32" fill="none"/>
<path d="M449.79 429.35H478.81M499.12 429.35H529.59" stroke="#4a4a4a" stroke-width="0.52" fill="none"/>
<path d="M449.79 422.14v14.43M529.59 422.14v14.43" stroke="#555" stroke-width="0.5" fill="none"/>
<rect x="478.81" y="415.04" width="20.31" height="28.62" fill="#e69c1c" stroke="#5a5a5a" stroke-width="0.4"/>
<path d="M490.42 415.04v28.62" stroke="#4d4d4d" stroke-width="0.42" fill="none"/>
<g fill="none" stroke="#3a3a3a" stroke-width="0.56">
<circle cx="391.75" cy="429.35" r="1.3"/>
<circle cx="406.26" cy="429.35" r="1.3"/>
<circle cx="420.77" cy="429.35" r="1.3"/>
<circle cx="435.28" cy="429.35" r="1.3"/>
<circle cx="536.85" cy="429.35" r="1.3"/>
</g>
<path d="M391.75 453.4v1.4M420.77 453.4v1.4M449.79 453.4v1.4M478.81 453.4v1.4M507.83 453.4v1.4M536.85 453.4v1.4M384.5 429.35h-1.4" stroke="#111" stroke-width="0.45" fill="none"/>
<rect x="384.5" y="405.3" width="159.6" height="48.1" fill="none" stroke="#333" stroke-width="0.55"/>
<g font-size="3.3" fill="#000">
<text transform="translate(391.75 458.85) rotate(0.05)" text-anchor="middle">0</text>
<text transform="translate(420.77 458.85) rotate(0.05)" text-anchor="middle">20</text>
<text transform="translate(449.79 458.85) rotate(0.05)" text-anchor="middle">40</text>
<text transform="translate(478.81 458.85) rotate(0.05)" text-anchor="middle">60</text>
<text transform="translate(507.83 458.85) rotate(0.05)" text-anchor="middle">80</text>
<text transform="translate(536.85 458.85) rotate(0.05)" text-anchor="middle">100</text>
</g>
</g>
<g id="p6">
<rect x="21.5" y="471.75" width="159.6" height="143.7" fill="#fff"/>
<path d="M28.75 471.75V615.45M57.77 471.75V615.45M86.79 471.75V615.45M115.81 471.75V615.45M144.83 471.75V615.45M173.85 471.75V615.45M21.5 615.45H181.1M21.5 598.34H181.1M21.5 581.24H181.1M21.5 564.13H181.1M21.5 547.02H181.1M21.5 529.91H181.1M21.5 512.81H181.1M21.5 495.7H181.1M21.5 478.59H181.1" stroke="#e9e9e9" stroke-width="0.32" fill="none"/>
<clipPath id="c6"><rect x="21.5" y="471.75" width="159.6" height="143.7"/></clipPath>
<g fill="rgb(160,180,240)" stroke="#1a1a1a" stroke-width="0.56" clip-path="url(#c6)">
<rect x="28.75" y="578.84" width="7.25" height="36.61"/>
<rect x="43.26" y="603.48" width="7.25" height="11.98"/>
<rect x="57.77" y="602.45" width="7.25" height="13"/>
<rect x="72.28" y="599.37" width="7.25" height="16.08"/>
<rect x="86.79" y="595.61" width="7.25" height="19.84"/>
<rect x="101.3" y="594.58" width="7.25" height="20.87"/>
<rect x="115.81" y="478.59" width="7.25" height="136.86"/>
<rect x="123.06" y="529.23" width="7.25" height="86.22"/>
<rect x="130.32" y="526.49" width="7.25" height="88.96"/>
<rect x="137.57" y="583.29" width="7.25" height="32.16"/>
<rect x="144.83" y="600.05" width="7.25" height="15.4"/>
<rect x="152.08" y="608.61" width="7.25" height="6.84"/>
<rect x="159.34" y="613.4" width="7.25" height="2.05"/>
<rect x="166.59" y="609.98" width="7.25" height="5.47"/>
</g>
<polyline points="28.75,596.17 29.48,596.25 30.21,596.62 30.94,597.26 31.67,598.12 32.4,599.15 33.13,600.28 33.86,601.46 34.59,602.62 35.32,603.71 36.05,604.71 36.77,605.57 37.5,606.28 38.23,606.85 38.96,607.28 39.69,607.6 40.42,607.82 41.15,607.99 41.88,608.12 42.61,608.24 43.34,608.37 44.07,608.53 44.79,608.71 45.52,608.91 46.25,609.13 46.98,609.35 47.71,609.55 48.44,609.72 49.17,609.84 49.9,609.9 50.63,609.89 51.36,609.8 52.09,609.66 52.81,609.46 53.54,609.23 54.27,608.98 55,608.73 55.73,608.52 56.46,608.35 57.19,608.23 57.92,608.19 58.65,608.21 59.38,608.3 60.11,608.43 60.83,608.59 61.56,608.75 62.29,608.9 63.02,609.02 63.75,609.07 64.48,609.05 65.21,608.95 65.94,608.78 66.67,608.53 67.4,608.23 68.13,607.89 68.86,607.54 69.58,607.21 70.31,606.92 71.04,606.7 71.77,606.56 72.5,606.5 73.23,606.53 73.96,606.63 74.69,606.79 75.42,606.99 76.15,607.2 76.88,607.38 77.6,607.51 78.33,607.57 79.06,607.54 79.79,607.41 80.52,607.18 81.25,606.87 81.98,606.49 82.71,606.08 83.44,605.66 84.17,605.26 84.9,604.92 85.62,604.66 86.35,604.51 87.08,604.47 87.81,604.54 88.54,604.72 89.27,604.97 90,605.27 90.73,605.6 91.46,605.9 92.19,606.15 92.92,606.33 93.64,606.4 94.37,606.36 95.1,606.21 95.83,605.96 96.56,605.62 97.29,605.23 98.02,604.81 98.75,604.39 99.48,604 100.21,603.66 100.94,603.37 101.66,603.13 102.39,602.92 103.12,602.7 103.85,602.42 104.58,602.01 105.31,601.4 106.04,600.52 106.77,599.28 107.5,597.62 108.23,595.48 108.96,592.81 109.68,589.6 110.41,585.84 111.14,581.56 111.87,576.81 112.6,571.67 113.33,566.23 114.06,560.6 114.79,554.89 115.52,549.24 116.25,543.75 116.98,538.56 117.7,533.75 118.43,529.4 119.16,525.6 119.89,522.36 120.62,519.74 121.35,517.72 122.08,516.3 122.81,515.46 123.54,515.16 124.27,515.35 125,516.01 125.72,517.07 126.45,518.48 127.18,520.21 127.91,522.2 128.64,524.41 129.37,526.81 130.1,529.36 130.83,532.04 131.56,534.81 132.29,537.66 133.02,540.57 133.74,543.52 134.47,546.5 135.2,549.49 135.93,552.5 136.66,555.51 137.39,558.51 138.12,561.51 138.85,564.48 139.58,567.44 140.31,570.37 141.04,573.26 141.77,576.11 142.49,578.91 143.22,581.64 143.95,584.31 144.68,586.88 145.41,589.35 146.14,591.72 146.87,593.95 147.6,596.05 148.33,598.01 149.06,599.81 149.79,601.46 150.51,602.97 151.24,604.32 151.97,605.53 152.7,606.61 153.43,607.57 154.16,608.41 154.89,609.16 155.62,609.81 156.35,610.38 157.08,610.87 157.81,611.3 158.53,611.67 159.26,611.98 159.99,612.25 160.72,612.47 161.45,612.64 162.18,612.78 162.91,612.88 163.64,612.96 164.37,613.01 165.1,613.04 165.83,613.05 166.55,613.04 167.28,613.03 168.01,613.01 168.74,612.99 169.47,612.98 170.2,612.97 170.93,612.98 171.66,613 172.39,613.03 173.12,613.09 173.85,613.17" fill="none" stroke="rgb(65,105,225)" stroke-width="0.95" stroke-linejoin="round" clip-path="url(#c6)"/>
<path d="M28.75 615.45v1.4M57.77 615.45v1.4M86.79 615.45v1.4M115.81 615.45v1.4M144.83 615.45v1.4M173.85 615.45v1.4M21.5 615.45h-1.4M21.5 598.34h-1.4M21.5 581.24h-1.4M21.5 564.13h-1.4M21.5 547.02h-1.4M21.5 529.91h-1.4M21.5 512.81h-1.4M21.5 495.7h-1.4M21.5 478.59h-1.4" stroke="#111" stroke-width="0.45" fill="none"/>
<rect x="21.5" y="471.75" width="159.6" height="143.7" fill="none" stroke="#333" stroke-width="0.55"/>
<g font-size="3.3" fill="#000">
<text transform="translate(28.75 621.4) rotate(0.05)" text-anchor="middle">0</text>
<text transform="translate(57.77 621.4) rotate(0.05)" text-anchor="middle">20</text>
<text transform="translate(86.79 621.4) rotate(0.05)" text-anchor="middle">40</text>
<text transform="translate(115.81 621.4) rotate(0.05)" text-anchor="middle">60</text>
<text transform="translate(144.83 621.4) rotate(0.05)" text-anchor="middle">80</text>
<text transform="translate(173.85 621.4) rotate(0.05)" text-anchor="middle">100</text>
<text transform="translate(18.6 616.7) rotate(0.05)" text-anchor="end">0</text>
<text transform="translate(18.6 599.59) rotate(0.05)" text-anchor="end">250</text>
<text transform="translate(18.6 582.49) rotate(0.05)" text-anchor="end">500</text>
<text transform="translate(18.6 565.38) rotate(0.05)" text-anchor="end">750</text>
<text transform="translate(18.6 548.27) rotate(0.05)" text-anchor="end">1000</text>
<text transform="translate(18.6 531.16) rotate(0.05)" text-anchor="end">1250</text>
<text transform="translate(18.6 514.06) rotate(0.05)" text-anchor="end">1500</text>
<text transform="translate(18.6 496.95) rotate(0.05)" text-anchor="end">1750</text>
<text transform="translate(18.6 479.84) rotate(0.05)" text-anchor="end">2000</text>
</g>
<text transform="translate(101.3 467.65) rotate(0.05)" font-size="4.65" text-anchor="middle">Distribution: situp</text>
<text transform="translate(101.3 627.05) rotate(0.05)" font-size="4.28" text-anchor="middle">situp</text>
<text transform="translate(7.75 543.6) rotate(-89.95)" font-size="4.28" text-anchor="middle">Count</text>
<rect x="21.5" y="634.5" width="159.6" height="48.1" fill="#fff"/>
<path d="M28.75 634.5V682.6M57.77 634.5V682.6M86.79 634.5V682.6M115.81 634.5V682.6M144.83 634.5V682.6M173.85 634.5V682.6M21.5 658.55H181.1" stroke="#e9e9e9" stroke-width="0.32" fill="none"/>
<path d="M101.3 658.55H115.81M130.32 658.55H152.08" stroke="#4a4a4a" stroke-width="0.52" fill="none"/>
<path d="M101.3 651.33v14.43M152.08 651.33v14.43" stroke="#555" stroke-width="0.5" fill="none"/>
<rect x="115.81" y="644.24" width="14.51" height="28.62" fill="#e69c1c" stroke="#5a5a5a" stroke-width="0.4"/>
<path d="M121.61 644.24v28.62" stroke="#4d4d4d" stroke-width="0.42" fill="none"/>
<g fill="none" stroke="#3a3a3a" stroke-width="0.56">
<circle cx="28.75" cy="658.55" r="1.3"/>
<circle cx="43.26" cy="658.55" r="1.3"/>
<circle cx="57.77" cy="658.55" r="1.3"/>
<circle cx="72.28" cy="658.55" r="1.3"/>
<circle cx="86.79" cy="658.55" r="1.3"/>
<circle cx="159.34" cy="658.55" r="1.3"/>
<circle cx="166.59" cy="658.55" r="1.3"/>
<circle cx="173.85" cy="658.55" r="1.3"/>
</g>
<path d="M28.75 682.6v1.4M57.77 682.6v1.4M86.79 682.6v1.4M115.81 682.6v1.4M144.83 682.6v1.4M173.85 682.6v1.4M21.5 658.55h-1.4" stroke="#111" stroke-width="0.45" fill="none"/>
<rect x="21.5" y="634.5" width="159.6" height="48.1" fill="none" stroke="#333" stroke-width="0.55"/>
<g font-size="3.3" fill="#000">
<text transform="translate(28.75 688.05) rotate(0.05)" text-anchor="middle">0</text>
<text transform="translate(57.77 688.05) rotate(0.05)" text-anchor="middle">20</text>
<text transform="translate(86.79 688.05) rotate(0.05)" text-anchor="middle">40</text>
<text transform="translate(115.81 688.05) rotate(0.05)" text-anchor="middle">60</text>
<text transform="translate(144.83 688.05) rotate(0.05)" text-anchor="middle">80</text>
<text transform="translate(173.85 688.05) rotate(0.05)" text-anchor="middle">100</text>
</g>
</g>
<g id="p7">
<rect x="203" y="471.75" width="159.6" height="143.7" fill="#fff"/>
<path d="M207.48 471.75V615.45M225.97 471.75V615.45M244.45 471.75V615.45M262.93 471.75V615.45M281.41 471.75V615.45M299.9 471.75V615.45M318.38 471.75V615.45M336.86 471.75V615.45M355.35 471.75V615.45M203 615.45H362.6M203 596.96H362.6M203 578.46H362.6M203 559.97H362.6M203 541.47H362.6M203 522.98H362.6M203 504.48H362.6M203 485.99H362.6" stroke="#e9e9e9" stroke-width="0.32" fill="none"/>
<clipPath id="c7"><rect x="203" y="471.75" width="159.6" height="143.7"/></clipPath>
<g fill="rgb(160,180,240)" stroke="#1a1a1a" stroke-width="0.56" clip-path="url(#c7)">
<rect x="210.25" y="615.3" width="7.25" height="0.15"/>
<rect x="224.76" y="615.23" width="7.25" height="0.22"/>
<rect x="232.02" y="615.08" width="7.25" height="0.37"/>
<rect x="239.27" y="614.34" width="7.25" height="1.11"/>
<rect x="246.53" y="613.23" width="7.25" height="2.22"/>
<rect x="253.78" y="611.75" width="7.25" height="3.7"/>
<rect x="261.04" y="609.53" width="7.25" height="5.92"/>
<rect x="268.29" y="603.61" width="7.25" height="11.84"/>
<rect x="275.55" y="595.11" width="7.25" height="20.34"/>
<rect x="282.8" y="577.35" width="7.25" height="38.1"/>
<rect x="290.05" y="553.68" width="7.25" height="61.77"/>
<rect x="297.31" y="516.69" width="7.25" height="98.76"/>
<rect x="304.56" y="478.59" width="7.25" height="136.86"/>
<rect x="311.82" y="515.95" width="7.25" height="99.5"/>
<rect x="319.07" y="577.72" width="7.25" height="37.73"/>
<rect x="326.33" y="605.46" width="7.25" height="9.99"/>
<rect x="333.58" y="612.86" width="7.25" height="2.59"/>
<rect x="340.84" y="614.86" width="7.25" height="0.59"/>
<rect x="348.09" y="615.23" width="7.25" height="0.22"/>
</g>
<polyline points="210.25,615.31 210.98,615.29 211.71,615.28 212.44,615.28 213.17,615.29 213.9,615.3 214.63,615.32 215.36,615.34 216.09,615.37 216.82,615.39 217.55,615.4 218.27,615.42 219,615.43 219.73,615.44 220.46,615.44 221.19,615.44 221.92,615.43 222.65,615.43 223.38,615.41 224.11,615.39 224.84,615.37 225.57,615.34 226.29,615.31 227.02,615.28 227.75,615.25 228.48,615.23 229.21,615.21 229.94,615.19 230.67,615.17 231.4,615.16 232.13,615.15 232.86,615.14 233.59,615.13 234.31,615.11 235.04,615.09 235.77,615.06 236.5,615.02 237.23,614.97 237.96,614.91 238.69,614.85 239.42,614.77 240.15,614.68 240.88,614.59 241.61,614.5 242.33,614.4 243.06,614.31 243.79,614.21 244.52,614.12 245.25,614.02 245.98,613.91 246.71,613.8 247.44,613.69 248.17,613.57 248.9,613.44 249.63,613.31 250.36,613.18 251.08,613.05 251.81,612.92 252.54,612.79 253.27,612.65 254,612.51 254.73,612.35 255.46,612.19 256.19,612.03 256.92,611.86 257.65,611.68 258.38,611.51 259.1,611.33 259.83,611.14 260.56,610.94 261.29,610.73 262.02,610.51 262.75,610.26 263.48,609.98 264.21,609.66 264.94,609.3 265.67,608.9 266.4,608.44 267.12,607.93 267.85,607.36 268.58,606.75 269.31,606.09 270.04,605.4 270.77,604.69 271.5,603.98 272.23,603.27 272.96,602.55 273.69,601.83 274.42,601.09 275.14,600.31 275.87,599.49 276.6,598.6 277.33,597.65 278.06,596.61 278.79,595.49 279.52,594.27 280.25,592.94 280.98,591.49 281.71,589.91 282.44,588.19 283.16,586.34 283.89,584.39 284.62,582.36 285.35,580.29 286.08,578.21 286.81,576.12 287.54,574.04 288.27,571.93 289,569.78 289.73,567.54 290.46,565.19 291.18,562.71 291.91,560.11 292.64,557.38 293.37,554.52 294.1,551.53 294.83,548.4 295.56,545.09 296.29,541.61 297.02,537.92 297.75,534.06 298.48,530.06 299.2,525.96 299.93,521.81 300.66,517.64 301.39,513.43 302.12,509.15 302.85,504.77 303.58,500.25 304.31,495.67 305.04,491.19 305.77,487.05 306.5,483.57 307.22,481.05 307.95,479.75 308.68,479.75 309.41,481.03 310.14,483.39 310.87,486.56 311.6,490.28 312.33,494.36 313.06,498.71 313.79,503.38 314.52,508.47 315.24,514.09 315.97,520.28 316.7,527 317.43,534.04 318.16,541.17 318.89,548.12 319.62,554.66 320.35,560.67 321.08,566.11 321.81,571.06 322.54,575.6 323.27,579.83 323.99,583.82 324.72,587.55 325.45,591.02 326.18,594.16 326.91,596.94 327.64,599.36 328.37,601.42 329.1,603.19 329.83,604.71 330.56,606.03 331.29,607.21 332.01,608.26 332.74,609.19 333.47,610.01 334.2,610.72 334.93,611.33 335.66,611.86 336.39,612.31 337.12,612.7 337.85,613.04 338.58,613.36 339.31,613.64 340.03,613.9 340.76,614.12 341.49,614.32 342.22,614.48 342.95,614.61 343.68,614.72 344.41,614.81 345.14,614.89 345.87,614.95 346.6,615 347.33,615.04 348.05,615.08 348.78,615.11 349.51,615.14 350.24,615.17 350.97,615.19 351.7,615.21 352.43,615.23 353.16,615.26 353.89,615.28 354.62,615.31 355.35,615.33" fill="none" stroke="rgb(65,105,225)" stroke-width="0.95" stroke-linejoin="round" clip-path="url(#c7)"/>
<path d="M207.48 615.45v1.4M225.97 615.45v1.4M244.45 615.45v1.4M262.93 615.45v1.4M281.41 615.45v1.4M299.9 615.45v1.4M318.38 615.45v1.4M336.86 615.45v1.4M355.35 615.45v1.4M203 615.45h-1.4M203 596.96h-1.4M203 578.46h-1.4M203 559.97h-1.4M203 541.47h-1.4M203 522.98h-1.4M203 504.48h-1.4M203 485.99h-1.4" stroke="#111" stroke-width="0.45" fill="none"/>
<rect x="203" y="471.75" width="159.6" height="143.7" fill="none" stroke="#333" stroke-width="0.55"/>
<g font-size="3.3" fill="#000">
<text transform="translate(207.48 621.4) rotate(0.05)" text-anchor="middle">20</text>
<text transform="translate(225.97 621.4) rotate(0.05)" text-anchor="middle">30</text>
<text transform="translate(244.45 621.4) rotate(0.05)" text-anchor="middle">40</text>
<text transform="translate(262.93 621.4) rotate(0.05)" text-anchor="middle">50</text>
<text transform="translate(281.41 621.4) rotate(0.05)" text-anchor="middle">60</text>
<text transform="translate(299.9 621.4) rotate(0.05)" text-anchor="middle">70</text>
<text transform="translate(318.38 621.4) rotate(0.05)" text-anchor="middle">80</text>
<text transform="translate(336.86 621.4) rotate(0.05)" text-anchor="middle">90</text>
<text transform="translate(355.35 621.4) rotate(0.05)" text-anchor="middle">100</text>
<text transform="translate(200.1 616.7) rotate(0.05)" text-anchor="end">0</text>
<text transform="translate(200.1 598.21) rotate(0.05)" text-anchor="end">250</text>
<text transform="translate(200.1 579.71) rotate(0.05)" text-anchor="end">500</text>
<text transform="translate(200.1 561.22) rotate(0.05)" text-anchor="end">750</text>
<text transform="translate(200.1 542.72) rotate(0.05)" text-anchor="end">1000</text>
<text transform="translate(200.1 524.23) rotate(0.05)" text-anchor="end">1250</text>
<text transform="translate(200.1 505.73) rotate(0.05)" text-anchor="end">1500</text>
<text transform="translate(200.1 487.24) rotate(0.05)" text-anchor="end">1750</text>
</g>
<text transform="translate(282.8 467.65) rotate(0.05)" font-size="4.65" text-anchor="middle">Distribution: total score</text>
<text transform="translate(282.8 627.05) rotate(0.05)" font-size="4.28" text-anchor="middle">total score</text>
<text transform="translate(189.25 543.6) rotate(-89.95)" font-size="4.28" text-anchor="middle">Count</text>
<rect x="203" y="634.5" width="159.6" height="48.1" fill="#fff"/>
<path d="M207.48 634.5V682.6M225.97 634.5V682.6M244.45 634.5V682.6M262.93 634.5V682.6M281.41 634.5V682.6M299.9 634.5V682.6M318.38 634.5V682.6M336.86 634.5V682.6M355.35 634.5V682.6M203 658.55H362.6" stroke="#e9e9e9" stroke-width="0.32" fill="none"/>
<path d="M270.69 658.55H295.92M312.93 658.55H338.9" stroke="#4a4a4a" stroke-width="0.52" fill="none"/>
<path d="M270.69 651.33v14.43M338.9 651.33v14.43" stroke="#555" stroke-width="0.5" fill="none"/>
<rect x="295.92" y="644.24" width="17" height="28.62" fill="#e69c1c" stroke="#5a5a5a" stroke-width="0.4"/>
<path d="M305.81 644.24v28.62" stroke="#4d4d4d" stroke-width="0.42" fill="none"/>
<g fill="none" stroke="#3a3a3a" stroke-width="0.56">
<circle cx="210.44" cy="658.55" r="1.3"/>
<circle cx="223.75" cy="658.55" r="1.3"/>
<circle cx="225.41" cy="658.55" r="1.3"/>
<circle cx="230.77" cy="658.55" r="1.3"/>
<circle cx="231.69" cy="658.55" r="1.3"/>
<circle cx="234.28" cy="658.55" r="1.3"/>
<circle cx="236.69" cy="658.55" r="1.3"/>
<circle cx="240.75" cy="658.55" r="1.3"/>
<circle cx="242.41" cy="658.55" r="1.3"/>
<circle cx="243.52" cy="658.55" r="1.3"/>
<circle cx="244.82" cy="658.55" r="1.3"/>
<circle cx="245.22" cy="658.55" r="1.3"/>
<circle cx="245.63" cy="658.55" r="1.3"/>
<circle cx="246.04" cy="658.55" r="1.3"/>
<circle cx="246.44" cy="658.55" r="1.3"/>
<circle cx="246.85" cy="658.55" r="1.3"/>
<circle cx="247.26" cy="658.55" r="1.3"/>
<circle cx="247.66" cy="658.55" r="1.3"/>
<circle cx="248.07" cy="658.55" r="1.3"/>
<circle cx="248.48" cy="658.55" r="1.3"/>
<circle cx="248.88" cy="658.55" r="1.3"/>
<circle cx="249.29" cy="658.55" r="1.3"/>
<circle cx="249.7" cy="658.55" r="1.3"/>
<circle cx="250.1" cy="658.55" r="1.3"/>
<circle cx="250.51" cy="658.55" r="1.3"/>
<circle cx="250.92" cy="658.55" r="1.3"/>
<circle cx="251.32" cy="658.55" r="1.3"/>
<circle cx="251.73" cy="658.55" r="1.3"/>
<circle cx="252.14" cy="658.55" r="1.3"/>
<circle cx="252.54" cy="658.55" r="1.3"/>
<circle cx="252.95" cy="658.55" r="1.3"/>
<circle cx="253.36" cy="658.55" r="1.3"/>
<circle cx="253.76" cy="658.55" r="1.3"/>
<circle cx="254.17" cy="658.55" r="1.3"/>
<circle cx="254.58" cy="658.55" r="1.3"/>
<circle cx="254.98" cy="658.55" r="1.3"/>
<circle cx="255.39" cy="658.55" r="1.3"/>
<circle cx="255.8" cy="658.55" r="1.3"/>
<circle cx="256.2" cy="658.55" r="1.3"/>
<circle cx="256.61" cy="658.55" r="1.3"/>
<circle cx="257.02" cy="658.55" r="1.3"/>
<circle cx="257.42" cy="658.55" r="1.3"/>
<circle cx="257.83" cy="658.55" r="1.3"/>
<circle cx="258.24" cy="658.55" r="1.3"/>
<circle cx="258.64" cy="658.55" r="1.3"/>
<circle cx="259.05" cy="658.55" r="1.3"/>
<circle cx="259.46" cy="658.55" r="1.3"/>
<circle cx="259.86" cy="658.55" r="1.3"/>
<circle cx="260.27" cy="658.55" r="1.3"/>
<circle cx="260.68" cy="658.55" r="1.3"/>
<circle cx="261.08" cy="658.55" r="1.3"/>
<circle cx="261.49" cy="658.55" r="1.3"/>
<circle cx="261.9" cy="658.55" r="1.3"/>
<circle cx="262.3" cy="658.55" r="1.3"/>
<circle cx="262.71" cy="658.55" r="1.3"/>
<circle cx="263.12" cy="658.55" r="1.3"/>
<circle cx="263.52" cy="658.55" r="1.3"/>
<circle cx="263.93" cy="658.55" r="1.3"/>
<circle cx="264.34" cy="658.55" r="1.3"/>
<circle cx="264.74" cy="658.55" r="1.3"/>
<circle cx="265.15" cy="658.55" r="1.3"/>
<circle cx="265.56" cy="658.55" r="1.3"/>
<circle cx="265.96" cy="658.55" r="1.3"/>
<circle cx="266.37" cy="658.55" r="1.3"/>
<circle cx="266.78" cy="658.55" r="1.3"/>
<circle cx="267.18" cy="658.55" r="1.3"/>
<circle cx="267.59" cy="658.55" r="1.3"/>
<circle cx="268" cy="658.55" r="1.3"/>
<circle cx="268.4" cy="658.55" r="1.3"/>
<circle cx="268.81" cy="658.55" r="1.3"/>
<circle cx="269.22" cy="658.55" r="1.3"/>
<circle cx="269.62" cy="658.55" r="1.3"/>
<circle cx="270.03" cy="658.55" r="1.3"/>
<circle cx="270.43" cy="658.55" r="1.3"/>
<circle cx="270.84" cy="658.55" r="1.3"/>
<circle cx="339.08" cy="658.55" r="1.3"/>
<circle cx="339.54" cy="658.55" r="1.3"/>
<circle cx="340" cy="658.55" r="1.3"/>
<circle cx="340.47" cy="658.55" r="1.3"/>
<circle cx="340.93" cy="658.55" r="1.3"/>
<circle cx="341.39" cy="658.55" r="1.3"/>
<circle cx="341.85" cy="658.55" r="1.3"/>
<circle cx="342.31" cy="658.55" r="1.3"/>
<circle cx="342.78" cy="658.55" r="1.3"/>
<circle cx="343.24" cy="658.55" r="1.3"/>
<circle cx="343.7" cy="658.55" r="1.3"/>
<circle cx="344.16" cy="658.55" r="1.3"/>
<circle cx="344.63" cy="658.55" r="1.3"/>
<circle cx="345.09" cy="658.55" r="1.3"/>
<circle cx="345.55" cy="658.55" r="1.3"/>
<circle cx="346.01" cy="658.55" r="1.3"/>
<circle cx="346.47" cy="658.55" r="1.3"/>
<circle cx="348.88" cy="658.55" r="1.3"/>
<circle cx="354.61" cy="658.55" r="1.3"/>
<circle cx="355.35" cy="658.55" r="1.3"/>
</g>
<path d="M207.48 682.6v1.4M225.97 682.6v1.4M244.45 682.6v1.4M262.93 682.6v1.4M281.41 682.6v1.4M299.9 682.6v1.4M318.38 682.6v1.4M336.86 682.6v1.4M355.35 682.6v1.4M203 658.55h-1.4" stroke="#111" stroke-width="0.45" fill="none"/>
<rect x="203" y="634.5" width="159.6" height="48.1" fill="none" stroke="#333" stroke-width="0.55"/>
<g font-size="3.3" fill="#000">
<text transform="translate(207.48 688.05) rotate(0.05)" text-anchor="middle">20</text>
<text transform="translate(225.97 688.05) rotate(0.05)" text-anchor="middle">30</text>
<text transform="translate(244.45 688.05) rotate(0.05)" text-anchor="middle">40</text>
<text transform="translate(262.93 688.05) rotate(0.05)" text-anchor="middle">50</text>
<text transform="translate(281.41 688.05) rotate(0.05)" text-anchor="middle">60</text>
<text transform="translate(299.9 688.05) rotate(0.05)" text-anchor="middle">70</text>
<text transform="translate(318.38 688.05) rotate(0.05)" text-anchor="middle">80</text>
<text transform="translate(336.86 688.05) rotate(0.05)" text-anchor="middle">90</text>
<text transform="translate(355.35 688.05) rotate(0.05)" text-anchor="middle">100</text>
</g>
</g>
<g id="p8">
<rect x="384.5" y="471.75" width="159.6" height="143.7" fill="#fff"/>
<path d="M391.75 471.75V615.45M415.94 471.75V615.45M440.12 471.75V615.45M464.3 471.75V615.45M488.48 471.75V615.45M512.66 471.75V615.45M536.85 471.75V615.45M384.5 615.45H544.1M384.5 597.95H544.1M384.5 580.45H544.1M384.5 562.95H544.1M384.5 545.45H544.1M384.5 527.95H544.1M384.5 510.44H544.1M384.5 492.94H544.1M384.5 475.44H544.1" stroke="#e9e9e9" stroke-width="0.32" fill="none"/>
<clipPath id="c8"><rect x="384.5" y="471.75" width="159.6" height="143.7"/></clipPath>
<g fill="rgb(160,180,240)" stroke="#1a1a1a" stroke-width="0.56" clip-path="url(#c8)">
<rect x="391.75" y="478.59" width="7.25" height="136.86"/>
<rect x="435.28" y="479.99" width="7.25" height="135.46"/>
<rect x="486.06" y="493.29" width="7.25" height="122.16"/>
<rect x="529.59" y="502.39" width="7.25" height="113.06"/>
</g>
<polyline points="391.75,571.72 392.48,571.87 393.21,572.29 393.94,572.98 394.67,573.93 395.4,575.13 396.13,576.54 396.86,578.14 397.59,579.91 398.32,581.81 399.05,583.82 399.77,585.9 400.5,588.02 401.23,590.15 401.96,592.27 402.69,594.34 403.42,596.36 404.15,598.29 404.88,600.12 405.61,601.84 406.34,603.44 407.07,604.91 407.79,606.26 408.52,607.47 409.25,608.55 409.98,609.5 410.71,610.33 411.44,611.04 412.17,611.63 412.9,612.11 413.63,612.48 414.36,612.75 415.09,612.91 415.81,612.98 416.54,612.95 417.27,612.82 418,612.6 418.73,612.27 419.46,611.83 420.19,611.28 420.92,610.63 421.65,609.85 422.38,608.95 423.11,607.92 423.83,606.77 424.56,605.48 425.29,604.06 426.02,602.52 426.75,600.86 427.48,599.08 428.21,597.2 428.94,595.23 429.67,593.2 430.4,591.11 431.13,589.01 431.86,586.9 432.58,584.82 433.31,582.81 434.04,580.89 434.77,579.09 435.5,577.44 436.23,575.98 436.96,574.73 437.69,573.7 438.42,572.93 439.15,572.42 439.88,572.19 440.6,572.23 441.33,572.56 442.06,573.16 442.79,574.02 443.52,575.12 444.25,576.45 444.98,577.97 445.71,579.67 446.44,581.52 447.17,583.47 447.9,585.51 448.62,587.6 449.35,589.71 450.08,591.81 450.81,593.88 451.54,595.9 452.27,597.84 453,599.68 453.73,601.43 454.46,603.05 455.19,604.55 455.92,605.93 456.64,607.17 457.37,608.29 458.1,609.28 458.83,610.14 459.56,610.89 460.29,611.52 461.02,612.03 461.75,612.45 462.48,612.76 463.21,612.97 463.94,613.09 464.66,613.12 465.39,613.05 466.12,612.89 466.85,612.64 467.58,612.29 468.31,611.84 469.04,611.29 469.77,610.63 470.5,609.86 471.23,608.97 471.96,607.97 472.68,606.85 473.41,605.61 474.14,604.26 474.87,602.8 475.6,601.23 476.33,599.56 477.06,597.82 477.79,596 478.52,594.13 479.25,592.24 479.98,590.33 480.7,588.45 481.43,586.61 482.16,584.85 482.89,583.19 483.62,581.65 484.35,580.28 485.08,579.08 485.81,578.08 486.54,577.31 487.27,576.77 488,576.48 488.72,576.44 489.45,576.65 490.18,577.1 490.91,577.8 491.64,578.72 492.37,579.86 493.1,581.18 493.83,582.66 494.56,584.28 495.29,586.02 496.02,587.83 496.74,589.7 497.47,591.6 498.2,593.5 498.93,595.38 499.66,597.22 500.39,598.99 501.12,600.69 501.85,602.29 502.58,603.79 503.31,605.18 504.04,606.46 504.77,607.62 505.49,608.67 506.22,609.6 506.95,610.41 507.68,611.12 508.41,611.72 509.14,612.22 509.87,612.62 510.6,612.93 511.33,613.14 512.06,613.28 512.79,613.32 513.51,613.28 514.24,613.16 514.97,612.95 515.7,612.65 516.43,612.27 517.16,611.78 517.89,611.21 518.62,610.53 519.35,609.74 520.08,608.85 520.81,607.85 521.53,606.74 522.26,605.53 522.99,604.2 523.72,602.78 524.45,601.27 525.18,599.68 525.91,598.01 526.64,596.3 527.37,594.55 528.1,592.79 528.83,591.04 529.55,589.32 530.28,587.66 531.01,586.09 531.74,584.63 532.47,583.3 533.2,582.14 533.93,581.15 534.66,580.37 535.39,579.79 536.12,579.45 536.85,579.33" fill="none" stroke="rgb(65,105,225)" stroke-width="0.95" stroke-linejoin="round" clip-path="url(#c8)"/>
<path d="M391.75 615.45v1.4M415.94 615.45v1.4M440.12 615.45v1.4M464.3 615.45v1.4M488.48 615.45v1.4M512.66 615.45v1.4M536.85 615.45v1.4M384.5 615.45h-1.4M384.5 597.95h-1.4M384.5 580.45h-1.4M384.5 562.95h-1.4M384.5 545.45h-1.4M384.5 527.95h-1.4M384.5 510.44h-1.4M384.5 492.94h-1.4M384.5 475.44h-1.4" stroke="#111" stroke-width="0.45" fill="none"/>
<rect x="384.5" y="471.75" width="159.6" height="143.7" fill="none" stroke="#333" stroke-width="0.55"/>
<g font-size="3.3" fill="#000">
<text transform="translate(391.75 621.4) rotate(0.05)" text-anchor="middle">2020.0</text>
<text transform="translate(415.94 621.4) rotate(0.05)" text-anchor="middle">2020.5</text>
<text transform="translate(440.12 621.4) rotate(0.05)" text-anchor="middle">2021.0</text>
<text transform="translate(464.3 621.4) rotate(0.05)" text-anchor="middle">2021.5</text>
<text transform="translate(488.48 621.4) rotate(0.05)" text-anchor="middle">2022.0</text>
<text transform="translate(512.66 621.4) rotate(0.05)" text-anchor="middle">2022.5</text>
<text transform="translate(536.85 621.4) rotate(0.05)" text-anchor="middle">2023.0</text>
<text transform="translate(381.6 616.7) rotate(0.05)" text-anchor="end">0</text>
<text transform="translate(381.6 599.2) rotate(0.05)" text-anchor="end">250</text>
<text transform="translate(381.6 581.7) rotate(0.05)" text-anchor="end">500</text>
<text transform="translate(381.6 564.2) rotate(0.05)" text-anchor="end">750</text>
<text transform="translate(381.6 546.7) rotate(0.05)" text-anchor="end">1000</text>
<text transform="translate(381.6 529.2) rotate(0.05)" text-anchor="end">1250</text>
<text transform="translate(381.6 511.69) rotate(0.05)" text-anchor="end">1500</text>
<text transform="translate(381.6 494.19) rotate(0.05)" text-anchor="end">1750</text>
<text transform="translate(381.6 476.69) rotate(0.05)" text-anchor="end">2000</text>
</g>
<text transform="translate(464.3 467.65) rotate(0.05)" font-size="4.65" text-anchor="middle">Distribution: year</text>
<text transform="translate(464.3 627.05) rotate(0.05)" font-size="4.28" text-anchor="middle">year</text>
<text transform="translate(370.75 543.6) rotate(-89.95)" font-size="4.28" text-anchor="middle">Count</text>
<rect x="384.5" y="634.5" width="159.6" height="48.1" fill="#fff"/>
<path d="M391.75 634.5V682.6M415.94 634.5V682.6M440.12 634.5V682.6M464.3 634.5V682.6M488.48 634.5V682.6M512.66 634.5V682.6M536.85 634.5V682.6M384.5 658.55H544.1" stroke="#e9e9e9" stroke-width="0.32" fill="none"/>
<path d="M488.48 658.55H536.85" stroke="#4a4a4a" stroke-width="0.52" fill="none"/>
<path d="M391.75 651.33v14.43M536.85 651.33v14.43" stroke="#555" stroke-width="0.5" fill="none"/>
<rect x="391.75" y="644.24" width="96.73" height="28.62" fill="#e69c1c" stroke="#5a5a5a" stroke-width="0.4"/>
<path d="M440.12 644.24v28.62" stroke="#4d4d4d" stroke-width="0.42" fill="none"/>
<path d="M391.75 682.6v1.4M415.94 682.6v1.4M440.12 682.6v1.4M464.3 682.6v1.4M488.48 682.6v1.4M512.66 682.6v1.4M536.85 682.6v1.4M384.5 658.55h-1.4" stroke="#111" stroke-width="0.45" fill="none"/>
<rect x="384.5" y="634.5" width="159.6" height="48.1" fill="none" stroke="#333" stroke-width="0.55"/>
<g font-size="3.3" fill="#000">
<text transform="translate(391.75 688.05) rotate(0.05)" text-anchor="middle">2020.0</text>
<text transform="translate(415.94 688.05) rotate(0.05)" text-anchor="middle">2020.5</text>
<text transform="translate(440.12 688.05) rotate(0.05)" text-anchor="middle">2021.0</text>
<text transform="translate(464.3 688.05) rotate(0.05)" text-anchor="middle">2021.5</text>
<text transform="translate(488.48 688.05) rotate(0.05)" text-anchor="middle">2022.0</text>
<text transform="translate(512.66 688.05) rotate(0.05)" text-anchor="middle">2022.5</text>
<text transform="translate(536.85 688.05) rotate(0.05)" text-anchor="middle">2023.0</text>
</g>
</g>
</svg>
</body></html>
